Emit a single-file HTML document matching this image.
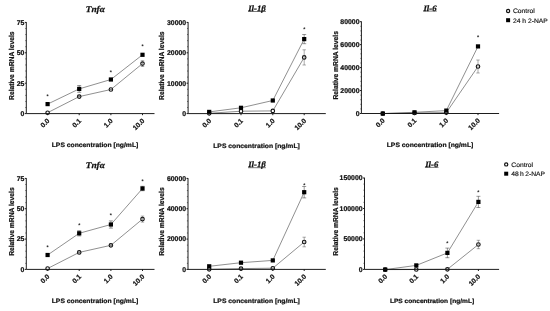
<!DOCTYPE html>
<html><head><meta charset="utf-8"><title>Figure</title>
<style>
html,body{margin:0;padding:0;background:#fff;}
body{width:550px;height:311px;overflow:hidden;}
svg{display:block;}
text{text-rendering:geometricPrecision;fill:#111;stroke:#111;stroke-width:0.22px;stroke-linejoin:round;}
.tk{font:bold 6.9px "Liberation Sans", Arial, sans-serif;}
.lb{font:bold 6.4px "Liberation Sans", Arial, sans-serif;}
.ti2{font:italic bold 8.2px "Liberation Serif", "Times New Roman", serif;stroke-width:0.25px;}
.tkx{font:bold 6.8px "Liberation Sans", Arial, sans-serif;}
.yl{font:bold 6.72px "Liberation Sans", Arial, sans-serif;}
.lg{font:6.35px "Liberation Sans", Arial, sans-serif;stroke-width:0.15px;}
.st{font:bold 5.4px "Liberation Sans", Arial, sans-serif;stroke-width:0.1px;fill:#333;}
.ti{font:italic bold 8.8px "Liberation Serif", "Times New Roman", serif;stroke-width:0.25px;}
</style></head><body>
<svg width="550" height="311" viewBox="0 0 550 311">
<rect width="550" height="311" fill="#fff"/>
<path d="M24.8 113.60H26.3" stroke="#111" stroke-width="0.95"/>
<text x="24.40" y="115.90" text-anchor="end" class="tk">0</text>
<path d="M25.2 107.52H26.3" stroke="#333" stroke-width="0.6"/>
<path d="M25.2 101.44H26.3" stroke="#333" stroke-width="0.6"/>
<path d="M25.2 95.36H26.3" stroke="#333" stroke-width="0.6"/>
<path d="M25.2 89.28H26.3" stroke="#333" stroke-width="0.6"/>
<path d="M24.8 83.20H26.3" stroke="#111" stroke-width="0.95"/>
<text x="24.40" y="85.50" text-anchor="end" class="tk">25</text>
<path d="M25.2 77.12H26.3" stroke="#333" stroke-width="0.6"/>
<path d="M25.2 71.04H26.3" stroke="#333" stroke-width="0.6"/>
<path d="M25.2 64.96H26.3" stroke="#333" stroke-width="0.6"/>
<path d="M25.2 58.88H26.3" stroke="#333" stroke-width="0.6"/>
<path d="M24.8 52.80H26.3" stroke="#111" stroke-width="0.95"/>
<text x="24.40" y="55.10" text-anchor="end" class="tk">50</text>
<path d="M25.2 46.72H26.3" stroke="#333" stroke-width="0.6"/>
<path d="M25.2 40.64H26.3" stroke="#333" stroke-width="0.6"/>
<path d="M25.2 34.56H26.3" stroke="#333" stroke-width="0.6"/>
<path d="M25.2 28.48H26.3" stroke="#333" stroke-width="0.6"/>
<path d="M24.8 22.40H26.3" stroke="#111" stroke-width="0.95"/>
<text x="24.40" y="24.70" text-anchor="end" class="tk">75</text>
<path d="M47.6 113.6V115.19999999999999" stroke="#111" stroke-width="0.95"/>
<text transform="translate(50.00 121.20) rotate(-45)" text-anchor="end" class="tkx">0.0</text>
<path d="M79.2 113.6V115.19999999999999" stroke="#111" stroke-width="0.95"/>
<text transform="translate(81.60 121.20) rotate(-45)" text-anchor="end" class="tkx">0.1</text>
<path d="M110.9 113.6V115.19999999999999" stroke="#111" stroke-width="0.95"/>
<text transform="translate(113.30 121.20) rotate(-45)" text-anchor="end" class="tkx">1.0</text>
<path d="M142.5 113.6V115.19999999999999" stroke="#111" stroke-width="0.95"/>
<text transform="translate(144.90 121.20) rotate(-45)" text-anchor="end" class="tkx">10.0</text>
<text transform="translate(95.3 12) scale(1.06 1)" text-anchor="middle" class="ti">Tnfα</text>
<text transform="translate(13.6 65.70) scale(1.06 1) rotate(-90)" text-anchor="middle" class="yl">Relative mRNA levels</text>
<text transform="translate(95 147.1) scale(1.06 1)" text-anchor="middle" class="lb">LPS concentration [ng/mL]</text>
<polyline points="47.60,104.10 79.20,88.90 110.90,79.50 142.50,54.80" fill="none" stroke="#333" stroke-width="0.55"/>
<polyline points="47.60,112.70 79.20,96.60 110.90,89.50 142.50,63.60" fill="none" stroke="#333" stroke-width="0.55"/>
<path d="M79.2 85.50V92.30M77.2 85.50h4M77.2 92.30h4" stroke="#333" stroke-width="0.5" fill="none"/>
<circle cx="47.6" cy="112.70" r="1.75" fill="#fff" stroke="#111" stroke-width="1.15"/>
<circle cx="79.2" cy="96.60" r="1.75" fill="#fff" stroke="#111" stroke-width="1.15"/>
<circle cx="110.9" cy="89.50" r="1.75" fill="#fff" stroke="#111" stroke-width="1.15"/>
<circle cx="142.5" cy="63.60" r="1.75" fill="#fff" stroke="#111" stroke-width="1.15"/>
<path d="M79.2 96.45V96.75M77.5 96.45h3.4M77.5 96.75h3.4" stroke="#444" stroke-width="0.45" fill="none"/>
<path d="M110.9 89.35V89.65M109.2 89.35h3.4M109.2 89.65h3.4" stroke="#444" stroke-width="0.45" fill="none"/>
<path d="M142.5 60.70V66.50M140.8 60.70h3.4M140.8 66.50h3.4" stroke="#444" stroke-width="0.45" fill="none"/>
<rect x="45.50" y="102.00" width="4.2" height="4.2" fill="#000"/>
<rect x="77.10" y="86.80" width="4.2" height="4.2" fill="#000"/>
<rect x="108.80" y="77.40" width="4.2" height="4.2" fill="#000"/>
<rect x="140.40" y="52.70" width="4.2" height="4.2" fill="#000"/>
<text x="47.6" y="97.80" text-anchor="middle" class="st">*</text>
<text x="110.9" y="74.10" text-anchor="middle" class="st">*</text>
<text x="142.5" y="48.10" text-anchor="middle" class="st">*</text>
<path d="M26.3 22.099999999999998V113.6H154.5" fill="none" stroke="#111" stroke-width="0.95"/>
<path d="M186.6 113.60H188.1" stroke="#111" stroke-width="0.95"/>
<text x="186.20" y="115.90" text-anchor="end" class="tk">0</text>
<path d="M187.0 107.52H188.1" stroke="#333" stroke-width="0.6"/>
<path d="M187.0 101.44H188.1" stroke="#333" stroke-width="0.6"/>
<path d="M187.0 95.36H188.1" stroke="#333" stroke-width="0.6"/>
<path d="M187.0 89.28H188.1" stroke="#333" stroke-width="0.6"/>
<path d="M186.6 83.20H188.1" stroke="#111" stroke-width="0.95"/>
<text x="186.20" y="85.50" text-anchor="end" class="tk">10000</text>
<path d="M187.0 77.12H188.1" stroke="#333" stroke-width="0.6"/>
<path d="M187.0 71.04H188.1" stroke="#333" stroke-width="0.6"/>
<path d="M187.0 64.96H188.1" stroke="#333" stroke-width="0.6"/>
<path d="M187.0 58.88H188.1" stroke="#333" stroke-width="0.6"/>
<path d="M186.6 52.80H188.1" stroke="#111" stroke-width="0.95"/>
<text x="186.20" y="55.10" text-anchor="end" class="tk">20000</text>
<path d="M187.0 46.72H188.1" stroke="#333" stroke-width="0.6"/>
<path d="M187.0 40.64H188.1" stroke="#333" stroke-width="0.6"/>
<path d="M187.0 34.56H188.1" stroke="#333" stroke-width="0.6"/>
<path d="M187.0 28.48H188.1" stroke="#333" stroke-width="0.6"/>
<path d="M186.6 22.40H188.1" stroke="#111" stroke-width="0.95"/>
<text x="186.20" y="24.70" text-anchor="end" class="tk">30000</text>
<path d="M209.2 113.6V115.19999999999999" stroke="#111" stroke-width="0.95"/>
<text transform="translate(211.60 121.20) rotate(-45)" text-anchor="end" class="tkx">0.0</text>
<path d="M241 113.6V115.19999999999999" stroke="#111" stroke-width="0.95"/>
<text transform="translate(243.40 121.20) rotate(-45)" text-anchor="end" class="tkx">0.1</text>
<path d="M272.8 113.6V115.19999999999999" stroke="#111" stroke-width="0.95"/>
<text transform="translate(275.20 121.20) rotate(-45)" text-anchor="end" class="tkx">1.0</text>
<path d="M304.2 113.6V115.19999999999999" stroke="#111" stroke-width="0.95"/>
<text transform="translate(306.60 121.20) rotate(-45)" text-anchor="end" class="tkx">10.0</text>
<text transform="translate(257 11) scale(1.07 1)" text-anchor="middle" class="ti2">Il-1β</text>
<path d="M248.10 11.50h17.8" stroke="#111" stroke-width="0.55"/>
<text transform="translate(163.7 65.70) scale(1.06 1) rotate(-90)" text-anchor="middle" class="yl">Relative mRNA levels</text>
<text transform="translate(256.5 147.5) scale(1.06 1)" text-anchor="middle" class="lb">LPS concentration [ng/mL]</text>
<polyline points="209.20,111.90 241.00,107.80 272.80,100.50 304.20,39.10" fill="none" stroke="#333" stroke-width="0.55"/>
<polyline points="209.20,113.30 241.00,111.20 272.80,110.90 304.20,57.40" fill="none" stroke="#333" stroke-width="0.55"/>
<path d="M304.2 34.50V43.70M302.2 34.50h4M302.2 43.70h4" stroke="#333" stroke-width="0.5" fill="none"/>
<circle cx="209.2" cy="113.30" r="1.75" fill="#fff" stroke="#111" stroke-width="1.15"/>
<circle cx="241" cy="111.20" r="1.75" fill="#fff" stroke="#111" stroke-width="1.15"/>
<circle cx="272.8" cy="110.90" r="1.75" fill="#fff" stroke="#111" stroke-width="1.15"/>
<circle cx="304.2" cy="57.40" r="1.75" fill="#fff" stroke="#111" stroke-width="1.15"/>
<path d="M304.2 49.80V65.00M302.5 49.80h3.4M302.5 65.00h3.4" stroke="#444" stroke-width="0.45" fill="none"/>
<rect x="207.10" y="109.80" width="4.2" height="4.2" fill="#000"/>
<rect x="238.90" y="105.70" width="4.2" height="4.2" fill="#000"/>
<rect x="270.70" y="98.40" width="4.2" height="4.2" fill="#000"/>
<rect x="302.10" y="37.00" width="4.2" height="4.2" fill="#000"/>
<text x="304.2" y="31.30" text-anchor="middle" class="st">*</text>
<path d="M188.1 22.099999999999998V113.6H325.8" fill="none" stroke="#111" stroke-width="0.95"/>
<path d="M359.9 113.50H361.4" stroke="#111" stroke-width="0.95"/>
<text x="359.50" y="115.80" text-anchor="end" class="tk">0</text>
<path d="M360.29999999999995 108.91H361.4" stroke="#333" stroke-width="0.6"/>
<path d="M360.29999999999995 104.32H361.4" stroke="#333" stroke-width="0.6"/>
<path d="M360.29999999999995 99.73H361.4" stroke="#333" stroke-width="0.6"/>
<path d="M360.29999999999995 95.14H361.4" stroke="#333" stroke-width="0.6"/>
<path d="M359.9 90.55H361.4" stroke="#111" stroke-width="0.95"/>
<text x="359.50" y="92.85" text-anchor="end" class="tk">20000</text>
<path d="M360.29999999999995 85.96H361.4" stroke="#333" stroke-width="0.6"/>
<path d="M360.29999999999995 81.37H361.4" stroke="#333" stroke-width="0.6"/>
<path d="M360.29999999999995 76.78H361.4" stroke="#333" stroke-width="0.6"/>
<path d="M360.29999999999995 72.19H361.4" stroke="#333" stroke-width="0.6"/>
<path d="M359.9 67.60H361.4" stroke="#111" stroke-width="0.95"/>
<text x="359.50" y="69.90" text-anchor="end" class="tk">40000</text>
<path d="M360.29999999999995 63.01H361.4" stroke="#333" stroke-width="0.6"/>
<path d="M360.29999999999995 58.42H361.4" stroke="#333" stroke-width="0.6"/>
<path d="M360.29999999999995 53.83H361.4" stroke="#333" stroke-width="0.6"/>
<path d="M360.29999999999995 49.24H361.4" stroke="#333" stroke-width="0.6"/>
<path d="M359.9 44.65H361.4" stroke="#111" stroke-width="0.95"/>
<text x="359.50" y="46.95" text-anchor="end" class="tk">60000</text>
<path d="M360.29999999999995 40.06H361.4" stroke="#333" stroke-width="0.6"/>
<path d="M360.29999999999995 35.47H361.4" stroke="#333" stroke-width="0.6"/>
<path d="M360.29999999999995 30.88H361.4" stroke="#333" stroke-width="0.6"/>
<path d="M360.29999999999995 26.29H361.4" stroke="#333" stroke-width="0.6"/>
<path d="M359.9 21.70H361.4" stroke="#111" stroke-width="0.95"/>
<text x="359.50" y="24.00" text-anchor="end" class="tk">80000</text>
<path d="M382.8 113.5V115.1" stroke="#111" stroke-width="0.95"/>
<text transform="translate(385.20 121.10) rotate(-45)" text-anchor="end" class="tkx">0.0</text>
<path d="M414.5 113.5V115.1" stroke="#111" stroke-width="0.95"/>
<text transform="translate(416.90 121.10) rotate(-45)" text-anchor="end" class="tkx">0.1</text>
<path d="M446.3 113.5V115.1" stroke="#111" stroke-width="0.95"/>
<text transform="translate(448.70 121.10) rotate(-45)" text-anchor="end" class="tkx">1.0</text>
<path d="M478 113.5V115.1" stroke="#111" stroke-width="0.95"/>
<text transform="translate(480.40 121.10) rotate(-45)" text-anchor="end" class="tkx">10.0</text>
<text transform="translate(430 10.6) scale(1.07 1)" text-anchor="middle" class="ti2">Il-6</text>
<path d="M423.20 11.10h13.6" stroke="#111" stroke-width="0.55"/>
<text transform="translate(337.6 65.30) scale(1.06 1) rotate(-90)" text-anchor="middle" class="yl">Relative mRNA levels</text>
<text transform="translate(430 147.4) scale(1.06 1)" text-anchor="middle" class="lb">LPS concentration [ng/mL]</text>
<polyline points="382.80,113.60 414.50,112.30 446.30,110.60 478.00,46.40" fill="none" stroke="#333" stroke-width="0.55"/>
<polyline points="382.80,113.50 414.50,113.00 446.30,112.60 478.00,66.50" fill="none" stroke="#333" stroke-width="0.55"/>
<circle cx="382.8" cy="113.50" r="1.75" fill="#fff" stroke="#111" stroke-width="1.15"/>
<circle cx="414.5" cy="113.00" r="1.75" fill="#fff" stroke="#111" stroke-width="1.15"/>
<circle cx="446.3" cy="112.60" r="1.75" fill="#fff" stroke="#111" stroke-width="1.15"/>
<circle cx="478" cy="66.50" r="1.75" fill="#fff" stroke="#111" stroke-width="1.15"/>
<path d="M478 60.00V73.00M476.3 60.00h3.4M476.3 73.00h3.4" stroke="#444" stroke-width="0.45" fill="none"/>
<rect x="380.70" y="111.50" width="4.2" height="4.2" fill="#000"/>
<rect x="412.40" y="110.20" width="4.2" height="4.2" fill="#000"/>
<rect x="444.20" y="108.50" width="4.2" height="4.2" fill="#000"/>
<rect x="475.90" y="44.30" width="4.2" height="4.2" fill="#000"/>
<text x="478" y="39.30" text-anchor="middle" class="st">*</text>
<path d="M361.4 21.4V113.5H499.1" fill="none" stroke="#111" stroke-width="0.95"/>
<path d="M24.8 269.40H26.3" stroke="#111" stroke-width="0.95"/>
<text x="24.40" y="271.70" text-anchor="end" class="tk">0</text>
<path d="M25.2 263.33H26.3" stroke="#333" stroke-width="0.6"/>
<path d="M25.2 257.27H26.3" stroke="#333" stroke-width="0.6"/>
<path d="M25.2 251.20H26.3" stroke="#333" stroke-width="0.6"/>
<path d="M25.2 245.13H26.3" stroke="#333" stroke-width="0.6"/>
<path d="M24.8 239.07H26.3" stroke="#111" stroke-width="0.95"/>
<text x="24.40" y="241.37" text-anchor="end" class="tk">25</text>
<path d="M25.2 233.00H26.3" stroke="#333" stroke-width="0.6"/>
<path d="M25.2 226.93H26.3" stroke="#333" stroke-width="0.6"/>
<path d="M25.2 220.87H26.3" stroke="#333" stroke-width="0.6"/>
<path d="M25.2 214.80H26.3" stroke="#333" stroke-width="0.6"/>
<path d="M24.8 208.73H26.3" stroke="#111" stroke-width="0.95"/>
<text x="24.40" y="211.03" text-anchor="end" class="tk">50</text>
<path d="M25.2 202.67H26.3" stroke="#333" stroke-width="0.6"/>
<path d="M25.2 196.60H26.3" stroke="#333" stroke-width="0.6"/>
<path d="M25.2 190.53H26.3" stroke="#333" stroke-width="0.6"/>
<path d="M25.2 184.47H26.3" stroke="#333" stroke-width="0.6"/>
<path d="M24.8 178.40H26.3" stroke="#111" stroke-width="0.95"/>
<text x="24.40" y="180.70" text-anchor="end" class="tk">75</text>
<path d="M47.6 269.4V271.0" stroke="#111" stroke-width="0.95"/>
<text transform="translate(50.00 277.00) rotate(-45)" text-anchor="end" class="tkx">0.0</text>
<path d="M79.2 269.4V271.0" stroke="#111" stroke-width="0.95"/>
<text transform="translate(81.60 277.00) rotate(-45)" text-anchor="end" class="tkx">0.1</text>
<path d="M110.9 269.4V271.0" stroke="#111" stroke-width="0.95"/>
<text transform="translate(113.30 277.00) rotate(-45)" text-anchor="end" class="tkx">1.0</text>
<path d="M142.5 269.4V271.0" stroke="#111" stroke-width="0.95"/>
<text transform="translate(144.90 277.00) rotate(-45)" text-anchor="end" class="tkx">10.0</text>
<text transform="translate(95.3 167.5) scale(1.06 1)" text-anchor="middle" class="ti">Tnfα</text>
<text transform="translate(13.6 221.60) scale(1.06 1) rotate(-90)" text-anchor="middle" class="yl">Relative mRNA levels</text>
<text transform="translate(95 303) scale(1.06 1)" text-anchor="middle" class="lb">LPS concentration [ng/mL]</text>
<polyline points="47.60,255.00 79.20,233.30 110.90,224.50 142.50,188.50" fill="none" stroke="#333" stroke-width="0.55"/>
<polyline points="47.60,268.50 79.20,252.40 110.90,245.30 142.50,219.10" fill="none" stroke="#333" stroke-width="0.55"/>
<path d="M79.2 230.70V235.90M77.2 230.70h4M77.2 235.90h4" stroke="#333" stroke-width="0.5" fill="none"/>
<path d="M110.9 220.90V228.10M108.9 220.90h4M108.9 228.10h4" stroke="#333" stroke-width="0.5" fill="none"/>
<path d="M142.5 186.30V190.70M140.5 186.30h4M140.5 190.70h4" stroke="#333" stroke-width="0.5" fill="none"/>
<circle cx="47.6" cy="268.50" r="1.75" fill="#fff" stroke="#111" stroke-width="1.15"/>
<circle cx="79.2" cy="252.40" r="1.75" fill="#fff" stroke="#111" stroke-width="1.15"/>
<circle cx="110.9" cy="245.30" r="1.75" fill="#fff" stroke="#111" stroke-width="1.15"/>
<circle cx="142.5" cy="219.10" r="1.75" fill="#fff" stroke="#111" stroke-width="1.15"/>
<path d="M79.2 252.25V252.55M77.5 252.25h3.4M77.5 252.55h3.4" stroke="#444" stroke-width="0.45" fill="none"/>
<path d="M110.9 245.15V245.45M109.2 245.15h3.4M109.2 245.45h3.4" stroke="#444" stroke-width="0.45" fill="none"/>
<path d="M142.5 216.10V222.10M140.8 216.10h3.4M140.8 222.10h3.4" stroke="#444" stroke-width="0.45" fill="none"/>
<rect x="45.50" y="252.90" width="4.2" height="4.2" fill="#000"/>
<rect x="77.10" y="231.20" width="4.2" height="4.2" fill="#000"/>
<rect x="108.80" y="222.40" width="4.2" height="4.2" fill="#000"/>
<rect x="140.40" y="186.40" width="4.2" height="4.2" fill="#000"/>
<text x="47.6" y="249.30" text-anchor="middle" class="st">*</text>
<text x="79.2" y="227.20" text-anchor="middle" class="st">*</text>
<text x="110.9" y="217.10" text-anchor="middle" class="st">*</text>
<text x="142.5" y="183.30" text-anchor="middle" class="st">*</text>
<path d="M26.3 178.1V269.4H154.5" fill="none" stroke="#111" stroke-width="0.95"/>
<path d="M186.5 269.40H188" stroke="#111" stroke-width="0.95"/>
<text x="186.10" y="271.70" text-anchor="end" class="tk">0</text>
<path d="M186.9 263.33H188" stroke="#333" stroke-width="0.6"/>
<path d="M186.9 257.27H188" stroke="#333" stroke-width="0.6"/>
<path d="M186.9 251.20H188" stroke="#333" stroke-width="0.6"/>
<path d="M186.9 245.13H188" stroke="#333" stroke-width="0.6"/>
<path d="M186.5 239.07H188" stroke="#111" stroke-width="0.95"/>
<text x="186.10" y="241.37" text-anchor="end" class="tk">20000</text>
<path d="M186.9 233.00H188" stroke="#333" stroke-width="0.6"/>
<path d="M186.9 226.93H188" stroke="#333" stroke-width="0.6"/>
<path d="M186.9 220.87H188" stroke="#333" stroke-width="0.6"/>
<path d="M186.9 214.80H188" stroke="#333" stroke-width="0.6"/>
<path d="M186.5 208.73H188" stroke="#111" stroke-width="0.95"/>
<text x="186.10" y="211.03" text-anchor="end" class="tk">40000</text>
<path d="M186.9 202.67H188" stroke="#333" stroke-width="0.6"/>
<path d="M186.9 196.60H188" stroke="#333" stroke-width="0.6"/>
<path d="M186.9 190.53H188" stroke="#333" stroke-width="0.6"/>
<path d="M186.9 184.47H188" stroke="#333" stroke-width="0.6"/>
<path d="M186.5 178.40H188" stroke="#111" stroke-width="0.95"/>
<text x="186.10" y="180.70" text-anchor="end" class="tk">60000</text>
<path d="M209.2 269.4V271.0" stroke="#111" stroke-width="0.95"/>
<text transform="translate(211.60 277.00) rotate(-45)" text-anchor="end" class="tkx">0.0</text>
<path d="M241 269.4V271.0" stroke="#111" stroke-width="0.95"/>
<text transform="translate(243.40 277.00) rotate(-45)" text-anchor="end" class="tkx">0.1</text>
<path d="M272.8 269.4V271.0" stroke="#111" stroke-width="0.95"/>
<text transform="translate(275.20 277.00) rotate(-45)" text-anchor="end" class="tkx">1.0</text>
<path d="M304.2 269.4V271.0" stroke="#111" stroke-width="0.95"/>
<text transform="translate(306.60 277.00) rotate(-45)" text-anchor="end" class="tkx">10.0</text>
<text transform="translate(257 167.2) scale(1.07 1)" text-anchor="middle" class="ti2">Il-1β</text>
<path d="M248.10 167.70h17.8" stroke="#111" stroke-width="0.55"/>
<text transform="translate(163.7 221.60) scale(1.06 1) rotate(-90)" text-anchor="middle" class="yl">Relative mRNA levels</text>
<text transform="translate(256.5 303) scale(1.06 1)" text-anchor="middle" class="lb">LPS concentration [ng/mL]</text>
<polyline points="209.20,266.30 241.00,262.70 272.80,260.40 304.20,192.20" fill="none" stroke="#333" stroke-width="0.55"/>
<polyline points="209.20,269.30 241.00,268.60 272.80,268.20 304.20,242.00" fill="none" stroke="#333" stroke-width="0.55"/>
<path d="M304.2 186.50V197.90M302.2 186.50h4M302.2 197.90h4" stroke="#333" stroke-width="0.5" fill="none"/>
<circle cx="209.2" cy="269.30" r="1.75" fill="#fff" stroke="#111" stroke-width="1.15"/>
<circle cx="241" cy="268.60" r="1.75" fill="#fff" stroke="#111" stroke-width="1.15"/>
<circle cx="272.8" cy="268.20" r="1.75" fill="#fff" stroke="#111" stroke-width="1.15"/>
<circle cx="304.2" cy="242.00" r="1.75" fill="#fff" stroke="#111" stroke-width="1.15"/>
<path d="M241 268.45V268.75M239.3 268.45h3.4M239.3 268.75h3.4" stroke="#444" stroke-width="0.45" fill="none"/>
<path d="M272.8 268.05V268.35M271.1 268.05h3.4M271.1 268.35h3.4" stroke="#444" stroke-width="0.45" fill="none"/>
<path d="M304.2 237.20V246.80M302.5 237.20h3.4M302.5 246.80h3.4" stroke="#444" stroke-width="0.45" fill="none"/>
<rect x="207.10" y="264.20" width="4.2" height="4.2" fill="#000"/>
<rect x="238.90" y="260.60" width="4.2" height="4.2" fill="#000"/>
<rect x="270.70" y="258.30" width="4.2" height="4.2" fill="#000"/>
<rect x="302.10" y="190.10" width="4.2" height="4.2" fill="#000"/>
<text x="304.2" y="186.60" text-anchor="middle" class="st">*</text>
<path d="M188 178.1V269.4H325.8" fill="none" stroke="#111" stroke-width="0.95"/>
<path d="M363.0 269.40H364.5" stroke="#111" stroke-width="0.95"/>
<text x="362.60" y="271.70" text-anchor="end" class="tk">0</text>
<path d="M363.4 263.31H364.5" stroke="#333" stroke-width="0.6"/>
<path d="M363.4 257.21H364.5" stroke="#333" stroke-width="0.6"/>
<path d="M363.4 251.12H364.5" stroke="#333" stroke-width="0.6"/>
<path d="M363.4 245.03H364.5" stroke="#333" stroke-width="0.6"/>
<path d="M363.0 238.93H364.5" stroke="#111" stroke-width="0.95"/>
<text x="362.60" y="241.23" text-anchor="end" class="tk">50000</text>
<path d="M363.4 232.84H364.5" stroke="#333" stroke-width="0.6"/>
<path d="M363.4 226.75H364.5" stroke="#333" stroke-width="0.6"/>
<path d="M363.4 220.65H364.5" stroke="#333" stroke-width="0.6"/>
<path d="M363.4 214.56H364.5" stroke="#333" stroke-width="0.6"/>
<path d="M363.0 208.47H364.5" stroke="#111" stroke-width="0.95"/>
<text x="362.60" y="210.77" text-anchor="end" class="tk">100000</text>
<path d="M363.4 202.37H364.5" stroke="#333" stroke-width="0.6"/>
<path d="M363.4 196.28H364.5" stroke="#333" stroke-width="0.6"/>
<path d="M363.4 190.19H364.5" stroke="#333" stroke-width="0.6"/>
<path d="M363.4 184.09H364.5" stroke="#333" stroke-width="0.6"/>
<path d="M363.0 178.00H364.5" stroke="#111" stroke-width="0.95"/>
<text x="362.60" y="180.30" text-anchor="end" class="tk">150000</text>
<path d="M385.2 269.4V271.0" stroke="#111" stroke-width="0.95"/>
<text transform="translate(387.60 277.00) rotate(-45)" text-anchor="end" class="tkx">0.0</text>
<path d="M416.3 269.4V271.0" stroke="#111" stroke-width="0.95"/>
<text transform="translate(418.70 277.00) rotate(-45)" text-anchor="end" class="tkx">0.1</text>
<path d="M447.4 269.4V271.0" stroke="#111" stroke-width="0.95"/>
<text transform="translate(449.80 277.00) rotate(-45)" text-anchor="end" class="tkx">1.0</text>
<path d="M478.4 269.4V271.0" stroke="#111" stroke-width="0.95"/>
<text transform="translate(480.80 277.00) rotate(-45)" text-anchor="end" class="tkx">10.0</text>
<text transform="translate(431.7 166.9) scale(1.07 1)" text-anchor="middle" class="ti2">Il-6</text>
<path d="M424.90 167.40h13.6" stroke="#111" stroke-width="0.55"/>
<text transform="translate(337.6 221.40) scale(1.06 1) rotate(-90)" text-anchor="middle" class="yl">Relative mRNA levels</text>
<text transform="translate(432 303) scale(1.06 1)" text-anchor="middle" class="lb" style="font-size:6.22px">LPS concentration [ng/mL]</text>
<polyline points="385.20,269.60 416.30,265.40 447.40,252.90 478.40,201.90" fill="none" stroke="#333" stroke-width="0.55"/>
<polyline points="385.20,269.60 416.30,269.50 447.40,269.30 478.40,244.50" fill="none" stroke="#333" stroke-width="0.55"/>
<path d="M447.4 248.10V257.70M445.4 248.10h4M445.4 257.70h4" stroke="#333" stroke-width="0.5" fill="none"/>
<path d="M478.4 196.30V207.50M476.4 196.30h4M476.4 207.50h4" stroke="#333" stroke-width="0.5" fill="none"/>
<circle cx="385.2" cy="269.60" r="1.75" fill="#fff" stroke="#111" stroke-width="1.15"/>
<circle cx="416.3" cy="269.50" r="1.75" fill="#fff" stroke="#111" stroke-width="1.15"/>
<circle cx="447.4" cy="269.30" r="1.75" fill="#fff" stroke="#111" stroke-width="1.15"/>
<circle cx="478.4" cy="244.50" r="1.75" fill="#fff" stroke="#111" stroke-width="1.15"/>
<path d="M478.4 240.30V248.70M476.7 240.30h3.4M476.7 248.70h3.4" stroke="#444" stroke-width="0.45" fill="none"/>
<rect x="383.10" y="267.50" width="4.2" height="4.2" fill="#000"/>
<rect x="414.20" y="263.30" width="4.2" height="4.2" fill="#000"/>
<rect x="445.30" y="250.80" width="4.2" height="4.2" fill="#000"/>
<rect x="476.30" y="199.80" width="4.2" height="4.2" fill="#000"/>
<text x="447.4" y="245.30" text-anchor="middle" class="st">*</text>
<text x="478.4" y="193.90" text-anchor="middle" class="st">*</text>
<path d="M364.5 177.7V269.4H499.1" fill="none" stroke="#111" stroke-width="0.95"/>
<circle cx="508.1" cy="11" r="1.6" fill="#fff" stroke="#111" stroke-width="1.2"/>
<rect x="506.1" y="18.2" width="4" height="4" fill="#000"/>
<text transform="translate(513 13.3) scale(1.06 1)" class="lg">Control</text>
<text transform="translate(513 22.5) scale(1.06 1)" class="lg" word-spacing="0">24 h 2-NAP</text>
<circle cx="506.2" cy="164.4" r="1.6" fill="#fff" stroke="#111" stroke-width="1.2"/>
<rect x="504.2" y="171.7" width="4" height="4" fill="#000"/>
<text transform="translate(511.3 166.70000000000002) scale(1.06 1)" class="lg">Control</text>
<text transform="translate(511.3 176.0) scale(1.06 1)" class="lg" word-spacing="-0.5">48 h 2-NAP</text>
</svg>
</body></html>
